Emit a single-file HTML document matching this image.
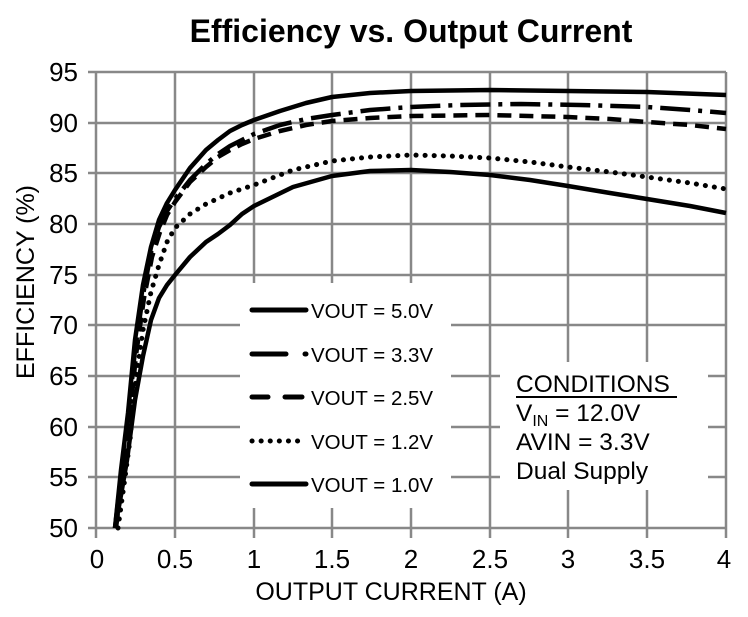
<!DOCTYPE html>
<html><head><meta charset="utf-8"><style>body{margin:0;background:#fff}svg{display:block}</style></head>
<body>
<svg width="748" height="617" xmlns="http://www.w3.org/2000/svg" font-family="Liberation Sans, Arial, sans-serif">
<rect width="748" height="617" fill="#fff"/>
<text x="411" y="42" text-anchor="middle" font-size="32" font-weight="bold">Efficiency vs. Output Current</text>
<g stroke="#888" stroke-width="2.5">
<line x1="96" y1="72" x2="96" y2="538"/>
<line x1="175" y1="72" x2="175" y2="538"/>
<line x1="254" y1="72" x2="254" y2="538"/>
<line x1="332" y1="72" x2="332" y2="538"/>
<line x1="411" y1="72" x2="411" y2="538"/>
<line x1="490" y1="72" x2="490" y2="538"/>
<line x1="568" y1="72" x2="568" y2="538"/>
<line x1="647" y1="72" x2="647" y2="538"/>
<line x1="726" y1="72" x2="726" y2="538"/>
<line x1="88" y1="72" x2="726" y2="72"/>
<line x1="88" y1="123" x2="726" y2="123"/>
<line x1="88" y1="173" x2="726" y2="173"/>
<line x1="88" y1="224" x2="726" y2="224"/>
<line x1="88" y1="275" x2="726" y2="275"/>
<line x1="88" y1="325" x2="726" y2="325"/>
<line x1="88" y1="376" x2="726" y2="376"/>
<line x1="88" y1="427" x2="726" y2="427"/>
<line x1="88" y1="477" x2="726" y2="477"/>
<line x1="88" y1="528" x2="726" y2="528"/>
</g>
<rect x="240" y="283" width="211" height="225" fill="#fff"/>
<rect x="500" y="362" width="208" height="128" fill="#fff"/>
<g fill="none" stroke="#000" stroke-width="4.5" stroke-linejoin="round">
<polyline points="115,528 121,470 128,413 135,340 143,285 151,247 159,220 167,203 175,190 190,168 206,150 218,140 230,131 242,125 254,120 280,111 306,103 332,97 370,93 411,91 490,90 568,91 647,92 726,95"/>
<polyline stroke-dasharray="30,8,4,8" points="115,528 121,475 128,420 135,350 143,295 151,252 159,227 167,211 175,199 190,180 206,164 218,154 230,146 242,140 254,134 280,125 306,119 332,115 370,110 411,107 460,105 521,104 580,105 647,107 690,110 726,113"/>
<polyline stroke-dasharray="14,8" points="116,528 122,480 129,425 136,355 144,298 152,257 160,232 167,215 175,202 190,182 206,167 218,157 230,150 242,144 254,139 280,131 306,125 332,121 370,118 411,116 490,115 568,117 610,119 647,122 690,125 726,129"/>
<polyline stroke-width="5" stroke-dasharray="0.1,9" stroke-linecap="round" points="118,528 124,485 130,440 136,378 143,330 151,292 159,265 167,242 175,228 190,214 206,204 230,193 254,185 293,170 332,161 370,157 411,155 450,156 490,158 530,162 568,167 610,172 647,177 690,183 726,189"/>
<polyline points="115,528 121,495 127,460 135,400 143,356 151,320 159,298 167,285 175,275 190,257 206,242 218,234 230,225 242,214 254,206 293,187 332,176 370,171 411,170 450,172 490,175 530,180 568,186 610,193 647,199 690,206 726,213"/>
</g>
<g stroke="#000" stroke-width="5" fill="none" stroke-linecap="round">
<line x1="252" y1="310" x2="306" y2="310"/>
<line x1="252" y1="354" x2="286" y2="354"/><line x1="305" y1="354" x2="306" y2="354"/>
<line x1="252" y1="397" x2="268" y2="397"/><line x1="285" y1="397" x2="302" y2="397"/>
<line x1="252" y1="441" x2="306" y2="441" stroke-dasharray="0.1,9"/>
<line x1="252" y1="484" x2="306" y2="484"/>
</g>
<g font-size="20.5">
<text x="311" y="318">VOUT = 5.0V</text>
<text x="311" y="362">VOUT = 3.3V</text>
<text x="311" y="405">VOUT = 2.5V</text>
<text x="311" y="449">VOUT = 1.2V</text>
<text x="311" y="492">VOUT = 1.0V</text>
</g>
<g font-size="24.5">
<text x="516" y="392">CONDITIONS</text>
<line x1="516" y1="397" x2="677" y2="397" stroke="#000" stroke-width="2"/>
<text x="516" y="421">V<tspan font-size="16" dy="5">IN</tspan><tspan dy="-5"> = 12.0V</tspan></text>
<text x="516" y="450">AVIN = 3.3V</text>
<text x="516" y="479">Dual Supply</text>
</g>
<g font-size="26" text-anchor="end">
<text x="78" y="81">95</text><text x="78" y="132">90</text><text x="78" y="182">85</text>
<text x="78" y="233">80</text><text x="78" y="284">75</text><text x="78" y="334">70</text>
<text x="78" y="385">65</text><text x="78" y="436">60</text><text x="78" y="486">55</text>
<text x="78" y="537">50</text>
</g>
<g font-size="26" text-anchor="middle">
<text x="97" y="568">0</text><text x="175" y="568">0.5</text><text x="254" y="568">1</text>
<text x="332" y="568">1.5</text><text x="411" y="568">2</text><text x="490" y="568">2.5</text>
<text x="568" y="568">3</text><text x="647" y="568">3.5</text><text x="724" y="568">4</text>
</g>
<text x="391" y="600" text-anchor="middle" font-size="25">OUTPUT CURRENT (A)</text>
<text transform="translate(34,282) rotate(-90)" text-anchor="middle" font-size="25">EFFICIENCY (%)</text>
</svg>
</body></html>
